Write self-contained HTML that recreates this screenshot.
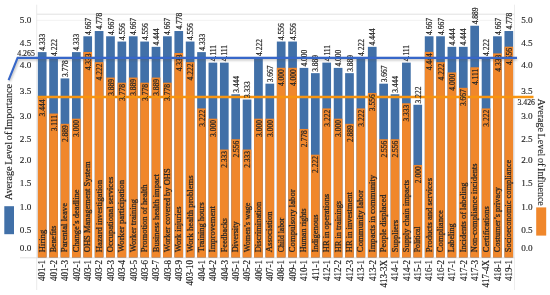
<!DOCTYPE html>
<html><head><meta charset="utf-8"><title>Chart</title>
<style>html,body{margin:0;padding:0;background:#fff}svg{display:block}text{font-family:"Liberation Serif",serif;fill:#262626;stroke:#262626;stroke-width:0.14px}.nm text{stroke-width:0.25px}.vl text{stroke-width:0.2px}</style></head>
<body>
<svg width="550" height="295" viewBox="0 0 550 295">
<rect width="550" height="295" fill="#fff"/>
<g stroke="#d9d9d9" stroke-width="0.8" fill="none">
<line x1="36.5" y1="14.2" x2="514.5" y2="14.2"/>
<line x1="36.5" y1="20.4" x2="514.5" y2="20.4" stroke="#f0f0f0"/>
<line x1="36.7" y1="4.7" x2="36.7" y2="290" stroke="#e4e4e4"/>
<line x1="514.5" y1="4.7" x2="514.5" y2="290" stroke="#e8e8e8"/>
<line x1="20" y1="257.8" x2="514.5" y2="257.8"/>
</g>
<g>
<rect x="37.84" y="52.12" width="8.70" height="205.38" fill="#4170a8"/><rect x="37.84" y="98.15" width="8.70" height="159.35" fill="#f0872b"/>
<rect x="49.22" y="57.38" width="8.70" height="200.12" fill="#4170a8"/><rect x="49.22" y="113.55" width="8.70" height="143.95" fill="#f0872b"/>
<rect x="60.60" y="78.42" width="8.70" height="179.08" fill="#4170a8"/><rect x="60.60" y="123.83" width="8.70" height="133.67" fill="#f0872b"/>
<rect x="71.98" y="52.12" width="8.70" height="205.38" fill="#4170a8"/><rect x="71.98" y="118.69" width="8.70" height="138.81" fill="#f0872b"/>
<rect x="83.36" y="36.28" width="8.70" height="221.22" fill="#4170a8"/><rect x="83.36" y="52.00" width="8.70" height="205.50" fill="#f0872b"/>
<rect x="94.75" y="31.02" width="8.70" height="226.48" fill="#4170a8"/><rect x="94.75" y="62.15" width="8.70" height="195.35" fill="#f0872b"/>
<rect x="106.13" y="36.28" width="8.70" height="221.22" fill="#4170a8"/><rect x="106.13" y="77.56" width="8.70" height="179.94" fill="#f0872b"/>
<rect x="117.51" y="41.55" width="8.70" height="215.95" fill="#4170a8"/><rect x="117.51" y="82.69" width="8.70" height="174.81" fill="#f0872b"/>
<rect x="128.89" y="36.28" width="8.70" height="221.22" fill="#4170a8"/><rect x="128.89" y="77.56" width="8.70" height="179.94" fill="#f0872b"/>
<rect x="140.27" y="41.55" width="8.70" height="215.95" fill="#4170a8"/><rect x="140.27" y="82.69" width="8.70" height="174.81" fill="#f0872b"/>
<rect x="151.65" y="46.85" width="8.70" height="210.65" fill="#4170a8"/><rect x="151.65" y="77.56" width="8.70" height="179.94" fill="#f0872b"/>
<rect x="163.03" y="36.28" width="8.70" height="221.22" fill="#4170a8"/><rect x="163.03" y="82.69" width="8.70" height="174.81" fill="#f0872b"/>
<rect x="174.41" y="31.02" width="8.70" height="226.48" fill="#4170a8"/><rect x="174.41" y="53.00" width="8.70" height="204.50" fill="#f0872b"/>
<rect x="185.79" y="41.55" width="8.70" height="215.95" fill="#4170a8"/><rect x="185.79" y="62.15" width="8.70" height="195.35" fill="#f0872b"/>
<rect x="197.17" y="52.12" width="8.70" height="205.38" fill="#4170a8"/><rect x="197.17" y="108.42" width="8.70" height="149.08" fill="#f0872b"/>
<rect x="208.55" y="62.64" width="8.70" height="194.86" fill="#4170a8"/><rect x="208.55" y="118.69" width="8.70" height="138.81" fill="#f0872b"/>
<rect x="219.94" y="62.64" width="8.70" height="194.86" fill="#4170a8"/><rect x="219.94" y="149.55" width="8.70" height="107.95" fill="#f0872b"/>
<rect x="231.32" y="94.25" width="8.70" height="163.25" fill="#4170a8"/><rect x="231.32" y="139.23" width="8.70" height="118.27" fill="#f0872b"/>
<rect x="242.70" y="99.52" width="8.70" height="157.98" fill="#4170a8"/><rect x="242.70" y="149.55" width="8.70" height="107.95" fill="#f0872b"/>
<rect x="254.08" y="57.38" width="8.70" height="200.12" fill="#4170a8"/><rect x="254.08" y="118.69" width="8.70" height="138.81" fill="#f0872b"/>
<rect x="265.46" y="83.68" width="8.70" height="173.82" fill="#4170a8"/><rect x="265.46" y="118.69" width="8.70" height="138.81" fill="#f0872b"/>
<rect x="276.84" y="41.55" width="8.70" height="215.95" fill="#4170a8"/><rect x="276.84" y="67.80" width="8.70" height="189.70" fill="#f0872b"/>
<rect x="288.22" y="41.55" width="8.70" height="215.95" fill="#4170a8"/><rect x="288.22" y="67.80" width="8.70" height="189.70" fill="#f0872b"/>
<rect x="299.60" y="67.90" width="8.70" height="189.60" fill="#4170a8"/><rect x="299.60" y="128.96" width="8.70" height="128.54" fill="#f0872b"/>
<rect x="310.98" y="73.16" width="8.70" height="184.34" fill="#4170a8"/><rect x="310.98" y="154.69" width="8.70" height="102.81" fill="#f0872b"/>
<rect x="322.36" y="62.64" width="8.70" height="194.86" fill="#4170a8"/><rect x="322.36" y="108.42" width="8.70" height="149.08" fill="#f0872b"/>
<rect x="333.75" y="67.90" width="8.70" height="189.60" fill="#4170a8"/><rect x="333.75" y="118.69" width="8.70" height="138.81" fill="#f0872b"/>
<rect x="345.13" y="73.16" width="8.70" height="184.34" fill="#4170a8"/><rect x="345.13" y="123.83" width="8.70" height="133.67" fill="#f0872b"/>
<rect x="356.51" y="57.38" width="8.70" height="200.12" fill="#4170a8"/><rect x="356.51" y="108.42" width="8.70" height="149.08" fill="#f0872b"/>
<rect x="367.89" y="46.85" width="8.70" height="210.65" fill="#4170a8"/><rect x="367.89" y="92.96" width="8.70" height="164.54" fill="#f0872b"/>
<rect x="379.27" y="83.68" width="8.70" height="173.82" fill="#4170a8"/><rect x="379.27" y="139.23" width="8.70" height="118.27" fill="#f0872b"/>
<rect x="390.65" y="94.25" width="8.70" height="163.25" fill="#4170a8"/><rect x="390.65" y="139.23" width="8.70" height="118.27" fill="#f0872b"/>
<rect x="402.03" y="62.64" width="8.70" height="194.86" fill="#4170a8"/><rect x="402.03" y="103.28" width="8.70" height="154.22" fill="#f0872b"/>
<rect x="413.41" y="104.78" width="8.70" height="152.72" fill="#4170a8"/><rect x="413.41" y="164.96" width="8.70" height="92.54" fill="#f0872b"/>
<rect x="424.79" y="36.28" width="8.70" height="221.22" fill="#4170a8"/><rect x="424.79" y="51.88" width="8.70" height="205.62" fill="#f0872b"/>
<rect x="436.17" y="36.28" width="8.70" height="221.22" fill="#4170a8"/><rect x="436.17" y="62.15" width="8.70" height="195.35" fill="#f0872b"/>
<rect x="447.55" y="46.85" width="8.70" height="210.65" fill="#4170a8"/><rect x="447.55" y="72.42" width="8.70" height="185.08" fill="#f0872b"/>
<rect x="458.94" y="46.85" width="8.70" height="210.65" fill="#4170a8"/><rect x="458.94" y="87.83" width="8.70" height="169.67" fill="#f0872b"/>
<rect x="470.32" y="25.76" width="8.70" height="231.74" fill="#4170a8"/><rect x="470.32" y="67.28" width="8.70" height="190.22" fill="#f0872b"/>
<rect x="481.70" y="57.38" width="8.70" height="200.12" fill="#4170a8"/><rect x="481.70" y="108.42" width="8.70" height="149.08" fill="#f0872b"/>
<rect x="493.08" y="36.28" width="8.70" height="221.22" fill="#4170a8"/><rect x="493.08" y="53.40" width="8.70" height="204.10" fill="#f0872b"/>
<rect x="504.46" y="31.02" width="8.70" height="226.48" fill="#4170a8"/><rect x="504.46" y="46.69" width="8.70" height="210.81" fill="#f0872b"/>
</g>
<defs><filter id="sh" x="-5%" y="-50%" width="110%" height="300%"><feGaussianBlur stdDeviation="0.8"/></filter></defs>
<polyline points="9.6,81.2 18.6,59.4 517,59.4" fill="none" stroke="#555" stroke-opacity="0.45" stroke-width="1.8" filter="url(#sh)"/>
<line x1="37.7" y1="98" x2="533.5" y2="98" stroke="#555" stroke-opacity="0.35" stroke-width="1.6" filter="url(#sh)"/>
<line x1="37.7" y1="97" x2="533.5" y2="97" stroke="#f7940f" stroke-width="2.3"/>
<g class="vl" font-size="7.5">
<text transform="translate(45.29,50.72) rotate(-90)" text-anchor="start">4.333</text><text transform="translate(45.29,99.55) rotate(-90)" text-anchor="end">3.444</text>
<text transform="translate(56.67,55.98) rotate(-90)" text-anchor="start">4.222</text><text transform="translate(56.67,114.95) rotate(-90)" text-anchor="end">3.111</text>
<text transform="translate(68.05,77.02) rotate(-90)" text-anchor="start">3.778</text><text transform="translate(68.05,125.23) rotate(-90)" text-anchor="end">2.889</text>
<text transform="translate(79.43,50.72) rotate(-90)" text-anchor="start">4.333</text><text transform="translate(79.43,120.09) rotate(-90)" text-anchor="end">3.000</text>
<text transform="translate(90.81,34.88) rotate(-90)" text-anchor="start">4.667</text><text transform="translate(90.81,53.40) rotate(-90)" text-anchor="end">4.333</text>
<text transform="translate(102.20,29.62) rotate(-90)" text-anchor="start">4.778</text><text transform="translate(102.20,63.55) rotate(-90)" text-anchor="end">4.222</text>
<text transform="translate(113.58,34.88) rotate(-90)" text-anchor="start">4.667</text><text transform="translate(113.58,78.96) rotate(-90)" text-anchor="end">3.889</text>
<text transform="translate(124.96,40.15) rotate(-90)" text-anchor="start">4.556</text><text transform="translate(124.96,84.09) rotate(-90)" text-anchor="end">3.778</text>
<text transform="translate(136.34,34.88) rotate(-90)" text-anchor="start">4.667</text><text transform="translate(136.34,78.96) rotate(-90)" text-anchor="end">3.889</text>
<text transform="translate(147.72,40.15) rotate(-90)" text-anchor="start">4.556</text><text transform="translate(147.72,84.09) rotate(-90)" text-anchor="end">3.778</text>
<text transform="translate(159.10,45.45) rotate(-90)" text-anchor="start">4.444</text><text transform="translate(159.10,78.96) rotate(-90)" text-anchor="end">3.889</text>
<text transform="translate(170.48,34.88) rotate(-90)" text-anchor="start">4.667</text><text transform="translate(170.48,84.09) rotate(-90)" text-anchor="end">3.778</text>
<text transform="translate(181.86,29.62) rotate(-90)" text-anchor="start">4.778</text><text transform="translate(181.86,54.40) rotate(-90)" text-anchor="end">4.333</text>
<text transform="translate(193.24,40.15) rotate(-90)" text-anchor="start">4.556</text><text transform="translate(193.24,63.55) rotate(-90)" text-anchor="end">4.222</text>
<text transform="translate(204.62,50.72) rotate(-90)" text-anchor="start">4.333</text><text transform="translate(204.62,109.82) rotate(-90)" text-anchor="end">3.222</text>
<text transform="translate(216.00,61.24) rotate(-90)" text-anchor="start">4.111</text><text transform="translate(216.00,120.09) rotate(-90)" text-anchor="end">3.000</text>
<text transform="translate(227.39,61.24) rotate(-90)" text-anchor="start">4.111</text><text transform="translate(227.39,150.95) rotate(-90)" text-anchor="end">2.333</text>
<text transform="translate(238.77,92.85) rotate(-90)" text-anchor="start">3.444</text><text transform="translate(238.77,140.63) rotate(-90)" text-anchor="end">2.556</text>
<text transform="translate(250.15,98.12) rotate(-90)" text-anchor="start">3.333</text><text transform="translate(250.15,150.95) rotate(-90)" text-anchor="end">2.333</text>
<text transform="translate(261.53,55.98) rotate(-90)" text-anchor="start">4.222</text><text transform="translate(261.53,120.09) rotate(-90)" text-anchor="end">3.000</text>
<text transform="translate(272.91,82.28) rotate(-90)" text-anchor="start">3.667</text><text transform="translate(272.91,120.09) rotate(-90)" text-anchor="end">3.000</text>
<text transform="translate(284.29,40.15) rotate(-90)" text-anchor="start">4.556</text><text transform="translate(284.29,69.20) rotate(-90)" text-anchor="end">4.000</text>
<text transform="translate(295.67,40.15) rotate(-90)" text-anchor="start">4.556</text><text transform="translate(295.67,69.20) rotate(-90)" text-anchor="end">4.000</text>
<text transform="translate(307.05,66.50) rotate(-90)" text-anchor="start">4.000</text><text transform="translate(307.05,130.36) rotate(-90)" text-anchor="end">2.778</text>
<text transform="translate(318.43,71.76) rotate(-90)" text-anchor="start">3.889</text><text transform="translate(318.43,156.09) rotate(-90)" text-anchor="end">2.222</text>
<text transform="translate(329.81,61.24) rotate(-90)" text-anchor="start">4.111</text><text transform="translate(329.81,109.82) rotate(-90)" text-anchor="end">3.222</text>
<text transform="translate(341.20,66.50) rotate(-90)" text-anchor="start">4.000</text><text transform="translate(341.20,120.09) rotate(-90)" text-anchor="end">3.000</text>
<text transform="translate(352.58,71.76) rotate(-90)" text-anchor="start">3.889</text><text transform="translate(352.58,125.23) rotate(-90)" text-anchor="end">2.889</text>
<text transform="translate(363.96,55.98) rotate(-90)" text-anchor="start">4.222</text><text transform="translate(363.96,109.82) rotate(-90)" text-anchor="end">3.222</text>
<text transform="translate(375.34,45.45) rotate(-90)" text-anchor="start">4.444</text><text transform="translate(375.34,94.36) rotate(-90)" text-anchor="end">3.556</text>
<text transform="translate(386.72,82.28) rotate(-90)" text-anchor="start">3.667</text><text transform="translate(386.72,140.63) rotate(-90)" text-anchor="end">2.556</text>
<text transform="translate(398.10,92.85) rotate(-90)" text-anchor="start">3.444</text><text transform="translate(398.10,140.63) rotate(-90)" text-anchor="end">2.556</text>
<text transform="translate(409.48,61.24) rotate(-90)" text-anchor="start">4.111</text><text transform="translate(409.48,104.68) rotate(-90)" text-anchor="end">3.333</text>
<text transform="translate(420.86,103.38) rotate(-90)" text-anchor="start">3.222</text><text transform="translate(420.86,166.36) rotate(-90)" text-anchor="end">2.000</text>
<text transform="translate(432.24,34.88) rotate(-90)" text-anchor="start">4.667</text><text transform="translate(432.24,53.28) rotate(-90)" text-anchor="end">4.444</text>
<text transform="translate(443.62,34.88) rotate(-90)" text-anchor="start">4.667</text><text transform="translate(443.62,63.55) rotate(-90)" text-anchor="end">4.222</text>
<text transform="translate(455.00,45.45) rotate(-90)" text-anchor="start">4.444</text><text transform="translate(455.00,73.82) rotate(-90)" text-anchor="end">4.000</text>
<text transform="translate(466.39,45.45) rotate(-90)" text-anchor="start">4.444</text><text transform="translate(466.39,89.23) rotate(-90)" text-anchor="end">3.667</text>
<text transform="translate(477.77,24.36) rotate(-90)" text-anchor="start">4.889</text><text transform="translate(477.77,68.68) rotate(-90)" text-anchor="end">4.111</text>
<text transform="translate(489.15,55.98) rotate(-90)" text-anchor="start">4.222</text><text transform="translate(489.15,109.82) rotate(-90)" text-anchor="end">3.222</text>
<text transform="translate(500.53,34.88) rotate(-90)" text-anchor="start">4.667</text><text transform="translate(500.53,54.80) rotate(-90)" text-anchor="end">4.333</text>
<text transform="translate(511.91,29.62) rotate(-90)" text-anchor="start">4.778</text><text transform="translate(511.91,48.09) rotate(-90)" text-anchor="end">4.556</text>
</g>
<polyline points="8.6,80.2 17.6,57.9 517,57.9" fill="none" stroke="#3767c9" stroke-width="2.1" stroke-linejoin="miter"/>
<g class="nm" font-size="8.8">
<text transform="translate(44.69,252.2) rotate(-90)" textLength="22.4" lengthAdjust="spacingAndGlyphs">Hiring</text>
<text transform="translate(56.07,252.2) rotate(-90)" textLength="26.5" lengthAdjust="spacingAndGlyphs">Benefits</text>
<text transform="translate(67.45,252.2) rotate(-90)" textLength="49.3" lengthAdjust="spacingAndGlyphs">Parental leave</text>
<text transform="translate(78.83,252.2) rotate(-90)" textLength="62.8" lengthAdjust="spacingAndGlyphs">Change’s deadline</text>
<text transform="translate(90.21,252.2) rotate(-90)" textLength="90.7" lengthAdjust="spacingAndGlyphs">OHS Management System</text>
<text transform="translate(101.60,252.2) rotate(-90)" textLength="72.2" lengthAdjust="spacingAndGlyphs">Hazard investigation</text>
<text transform="translate(112.98,252.2) rotate(-90)" textLength="75.5" lengthAdjust="spacingAndGlyphs">Occupational services</text>
<text transform="translate(124.36,252.2) rotate(-90)" textLength="72.2" lengthAdjust="spacingAndGlyphs">Worker participation</text>
<text transform="translate(135.74,252.2) rotate(-90)" textLength="53.1" lengthAdjust="spacingAndGlyphs">Worker training</text>
<text transform="translate(147.12,252.2) rotate(-90)" textLength="67.8" lengthAdjust="spacingAndGlyphs">Promotion of health</text>
<text transform="translate(158.50,252.2) rotate(-90)" textLength="78.0" lengthAdjust="spacingAndGlyphs">Business health impact</text>
<text transform="translate(169.88,252.2) rotate(-90)" textLength="83.9" lengthAdjust="spacingAndGlyphs">Worker covered by OHS</text>
<text transform="translate(181.26,252.2) rotate(-90)" textLength="45.7" lengthAdjust="spacingAndGlyphs">Work injuries</text>
<text transform="translate(192.64,252.2) rotate(-90)" textLength="76.8" lengthAdjust="spacingAndGlyphs">Work health problems</text>
<text transform="translate(204.02,252.2) rotate(-90)" textLength="49.9" lengthAdjust="spacingAndGlyphs">Training hours</text>
<text transform="translate(215.40,252.2) rotate(-90)" textLength="46.2" lengthAdjust="spacingAndGlyphs">Improvement</text>
<text transform="translate(226.79,252.2) rotate(-90)" textLength="34.2" lengthAdjust="spacingAndGlyphs">Feedbacks</text>
<text transform="translate(238.17,252.2) rotate(-90)" textLength="30.8" lengthAdjust="spacingAndGlyphs">Diversity</text>
<text transform="translate(249.55,252.2) rotate(-90)" textLength="49.6" lengthAdjust="spacingAndGlyphs">Women’s wage</text>
<text transform="translate(260.93,252.2) rotate(-90)" textLength="50.4" lengthAdjust="spacingAndGlyphs">Discrimination</text>
<text transform="translate(272.31,252.2) rotate(-90)" textLength="40.9" lengthAdjust="spacingAndGlyphs">Association</text>
<text transform="translate(283.69,252.2) rotate(-90)" textLength="34.6" lengthAdjust="spacingAndGlyphs">Child labor</text>
<text transform="translate(295.07,252.2) rotate(-90)" textLength="62.8" lengthAdjust="spacingAndGlyphs">Compulsory labor</text>
<text transform="translate(306.45,252.2) rotate(-90)" textLength="43.9" lengthAdjust="spacingAndGlyphs">Human rights</text>
<text transform="translate(317.83,252.2) rotate(-90)" textLength="37.7" lengthAdjust="spacingAndGlyphs">Indigenous</text>
<text transform="translate(329.21,252.2) rotate(-90)" textLength="58.4" lengthAdjust="spacingAndGlyphs">HR in operations</text>
<text transform="translate(340.60,252.2) rotate(-90)" textLength="51.3" lengthAdjust="spacingAndGlyphs">HR in trainings</text>
<text transform="translate(351.98,252.2) rotate(-90)" textLength="60.2" lengthAdjust="spacingAndGlyphs">HR in investment</text>
<text transform="translate(363.36,252.2) rotate(-90)" textLength="62.0" lengthAdjust="spacingAndGlyphs">Community labor</text>
<text transform="translate(374.74,252.2) rotate(-90)" textLength="77.3" lengthAdjust="spacingAndGlyphs">Impacts in community</text>
<text transform="translate(386.12,252.2) rotate(-90)" textLength="57.7" lengthAdjust="spacingAndGlyphs">People displaced</text>
<text transform="translate(397.50,252.2) rotate(-90)" textLength="32.2" lengthAdjust="spacingAndGlyphs">Suppliers</text>
<text transform="translate(408.88,252.2) rotate(-90)" textLength="72.2" lengthAdjust="spacingAndGlyphs">Supply chain impacts</text>
<text transform="translate(420.26,252.2) rotate(-90)" textLength="25.7" lengthAdjust="spacingAndGlyphs">Political</text>
<text transform="translate(431.64,252.2) rotate(-90)" textLength="74.2" lengthAdjust="spacingAndGlyphs">Products and services</text>
<text transform="translate(443.02,252.2) rotate(-90)" textLength="42.0" lengthAdjust="spacingAndGlyphs">Compliance</text>
<text transform="translate(454.40,252.2) rotate(-90)" textLength="28.8" lengthAdjust="spacingAndGlyphs">Labeling</text>
<text transform="translate(465.79,252.2) rotate(-90)" textLength="69.6" lengthAdjust="spacingAndGlyphs">Incidents of labeling</text>
<text transform="translate(477.17,252.2) rotate(-90)" textLength="88.7" lengthAdjust="spacingAndGlyphs">Non-compliance incidents</text>
<text transform="translate(488.55,252.2) rotate(-90)" textLength="46.0" lengthAdjust="spacingAndGlyphs">Certifications</text>
<text transform="translate(499.93,252.2) rotate(-90)" textLength="65.2" lengthAdjust="spacingAndGlyphs">Costumer’s privacy</text>
<text transform="translate(511.31,252.2) rotate(-90)" textLength="92.4" lengthAdjust="spacingAndGlyphs">Socioeconomic compliance</text>
</g>
<g font-size="9.7">
<text transform="translate(45.49,259.9) rotate(-90) scale(0.93,1)" text-anchor="end">401-1</text>
<text transform="translate(56.87,259.9) rotate(-90) scale(0.93,1)" text-anchor="end">401-2</text>
<text transform="translate(68.25,259.9) rotate(-90) scale(0.93,1)" text-anchor="end">401-3</text>
<text transform="translate(79.63,259.9) rotate(-90) scale(0.93,1)" text-anchor="end">402-1</text>
<text transform="translate(91.01,259.9) rotate(-90) scale(0.93,1)" text-anchor="end">403-1</text>
<text transform="translate(102.40,259.9) rotate(-90) scale(0.93,1)" text-anchor="end">403-2</text>
<text transform="translate(113.78,259.9) rotate(-90) scale(0.93,1)" text-anchor="end">403-3</text>
<text transform="translate(125.16,259.9) rotate(-90) scale(0.93,1)" text-anchor="end">403-4</text>
<text transform="translate(136.54,259.9) rotate(-90) scale(0.93,1)" text-anchor="end">403-5</text>
<text transform="translate(147.92,259.9) rotate(-90) scale(0.93,1)" text-anchor="end">403-6</text>
<text transform="translate(159.30,259.9) rotate(-90) scale(0.93,1)" text-anchor="end">403-7</text>
<text transform="translate(170.68,259.9) rotate(-90) scale(0.93,1)" text-anchor="end">403-8</text>
<text transform="translate(182.06,259.9) rotate(-90) scale(0.93,1)" text-anchor="end">403-9</text>
<text transform="translate(193.44,259.9) rotate(-90) scale(0.93,1)" text-anchor="end">403-10</text>
<text transform="translate(204.82,259.9) rotate(-90) scale(0.93,1)" text-anchor="end">404-1</text>
<text transform="translate(216.20,259.9) rotate(-90) scale(0.93,1)" text-anchor="end">404-2</text>
<text transform="translate(227.59,259.9) rotate(-90) scale(0.93,1)" text-anchor="end">404-3</text>
<text transform="translate(238.97,259.9) rotate(-90) scale(0.93,1)" text-anchor="end">405-1</text>
<text transform="translate(250.35,259.9) rotate(-90) scale(0.93,1)" text-anchor="end">405-2</text>
<text transform="translate(261.73,259.9) rotate(-90) scale(0.93,1)" text-anchor="end">406-1</text>
<text transform="translate(273.11,259.9) rotate(-90) scale(0.93,1)" text-anchor="end">407-1</text>
<text transform="translate(284.49,259.9) rotate(-90) scale(0.93,1)" text-anchor="end">408-1</text>
<text transform="translate(295.87,259.9) rotate(-90) scale(0.93,1)" text-anchor="end">409-1</text>
<text transform="translate(307.25,259.9) rotate(-90) scale(0.93,1)" text-anchor="end">410-1</text>
<text transform="translate(318.63,259.9) rotate(-90) scale(0.93,1)" text-anchor="end">411-1</text>
<text transform="translate(330.01,259.9) rotate(-90) scale(0.93,1)" text-anchor="end">412-1</text>
<text transform="translate(341.40,259.9) rotate(-90) scale(0.93,1)" text-anchor="end">412-2</text>
<text transform="translate(352.78,259.9) rotate(-90) scale(0.93,1)" text-anchor="end">412-3</text>
<text transform="translate(364.16,259.9) rotate(-90) scale(0.93,1)" text-anchor="end">413-1</text>
<text transform="translate(375.54,259.9) rotate(-90) scale(0.93,1)" text-anchor="end">413-2</text>
<text transform="translate(386.92,259.9) rotate(-90) scale(0.93,1)" text-anchor="end">413-3X</text>
<text transform="translate(398.30,259.9) rotate(-90) scale(0.93,1)" text-anchor="end">414-1</text>
<text transform="translate(409.68,259.9) rotate(-90) scale(0.93,1)" text-anchor="end">414-2</text>
<text transform="translate(421.06,259.9) rotate(-90) scale(0.93,1)" text-anchor="end">415-1</text>
<text transform="translate(432.44,259.9) rotate(-90) scale(0.93,1)" text-anchor="end">416-1</text>
<text transform="translate(443.82,259.9) rotate(-90) scale(0.93,1)" text-anchor="end">416-2</text>
<text transform="translate(455.20,259.9) rotate(-90) scale(0.93,1)" text-anchor="end">417-1</text>
<text transform="translate(466.59,259.9) rotate(-90) scale(0.93,1)" text-anchor="end">417-2</text>
<text transform="translate(477.97,259.9) rotate(-90) scale(0.93,1)" text-anchor="end">417-3</text>
<text transform="translate(489.35,259.9) rotate(-90) scale(0.93,1)" text-anchor="end">417-4X</text>
<text transform="translate(500.73,259.9) rotate(-90) scale(0.93,1)" text-anchor="end">418-1</text>
<text transform="translate(512.11,259.9) rotate(-90) scale(0.93,1)" text-anchor="end">419-1</text>
</g>
<g font-size="9.2">
<text x="31.3" y="23.4" text-anchor="end">5.0</text><text x="521.2" y="23.4">5.0</text>
<text x="31.3" y="46.2" text-anchor="end">4.5</text><text x="521.2" y="46.2">4.5</text>
<text x="31.3" y="67.7" text-anchor="end">4.0</text><text x="521.2" y="67.7">4.0</text>
<text x="31.3" y="94.4" text-anchor="end">3.5</text><text x="521.2" y="94.4">3.5</text>
<text x="31.3" y="119.3" text-anchor="end">3.0</text><text x="521.2" y="119.3">3.0</text>
<text x="31.3" y="141.7" text-anchor="end">2.5</text><text x="521.2" y="141.7">2.5</text>
<text x="31.3" y="163.1" text-anchor="end">2.0</text><text x="521.2" y="163.1">2.0</text>
<text x="31.3" y="186.1" text-anchor="end">1.5</text><text x="521.2" y="186.1">1.5</text>
<text x="31.3" y="210.1" text-anchor="end">1.0</text><text x="521.2" y="210.1">1.0</text>
<text x="31.3" y="232.5" text-anchor="end">0.5</text><text x="521.2" y="232.5">0.5</text>
<text x="31.3" y="251.1" text-anchor="end">0.0</text><text x="521.2" y="251.1">0.0</text>
</g>
<text x="34.8" y="56.1" font-size="7.8" text-anchor="end">4.265</text>
<text x="517.4" y="105" font-size="7.8">3.426</text>
<text transform="translate(11.9,200) rotate(-90)" font-size="9.8" word-spacing="-0.8" textLength="116" lengthAdjust="spacingAndGlyphs">Average Level of Importance</text>
<text transform="translate(538.2,98.8) rotate(90)" font-size="9.8" word-spacing="-0.8" textLength="107" lengthAdjust="spacingAndGlyphs">Average Level of Influence</text>
<rect x="4.3" y="206.2" width="9.7" height="28" fill="#4170a8"/>
<rect x="536.2" y="207.4" width="10" height="28.2" fill="#f0872b"/>
</svg>
</body></html>
